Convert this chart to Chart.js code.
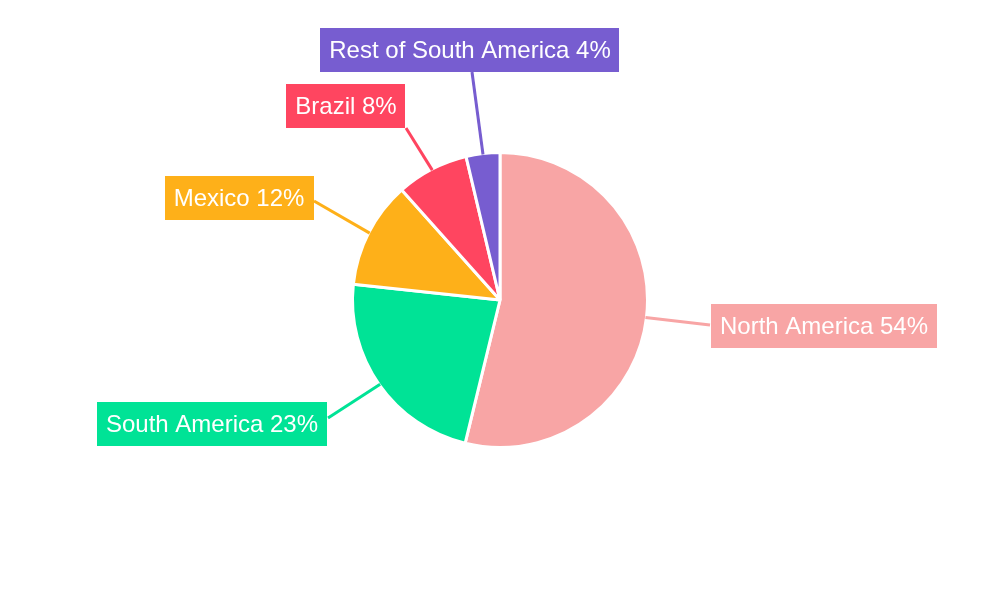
<!DOCTYPE html>
<html>
<head>
<meta charset="utf-8">
<script src="https://cdn.jsdelivr.net/npm/chart.js@4/dist/chart.umd.min.js"></script>
<style>
  html, body { margin: 0; padding: 0; background: #fff; }
  #wrap { width: 1000px; height: 600px; }
</style>
</head>
<body>
<div id="wrap"><canvas id="myChart" width="1000" height="600"></canvas></div>
<script>
// datos del grafico
const regiones = ["North America", "South America", "Mexico", "Brazil", "Rest of South America"];
const valores = [53.8, 22.9, 11.7, 7.9, 3.7];
const porcentajes = ["54%", "23%", "12%", "8%", "4%"];
const colores = ["#F8A5A5", "#00E396", "#FEB019", "#FF4560", "#775DD0"];

// posicion de las etiquetas (centro de la caja y fin de la linea)
const cajas = [[824, 326], [212, 424], [239, 198], [346, 106], [470, 50]];
const finLinea = [[710, 325], [328, 418], [314, 201], [406, 128], [472, 72]];

const etiquetas = {
  id: "etiquetas",
  afterDatasetsDraw(chart) {
    const ctx = chart.ctx;
    const arcs = chart.getDatasetMeta(0).data;
    ctx.save();
    ctx.font = "24px 'Liberation Sans', Arial, sans-serif";
    arcs.forEach((arc, i) => {
      const mid = (arc.startAngle + arc.endAngle) / 2;
      const r = arc.outerRadius - 1;
      const x0 = arc.x + Math.cos(mid) * r;
      const y0 = arc.y + Math.sin(mid) * r;
      ctx.strokeStyle = colores[i];
      ctx.lineWidth = 3;
      ctx.beginPath();
      ctx.moveTo(x0, y0);
      ctx.lineTo(finLinea[i][0], finLinea[i][1]);
      ctx.stroke();

      const texto = regiones[i] + " " + porcentajes[i];
      const w = ctx.measureText(texto).width + 18;
      const h = 44;
      const [cx, cy] = cajas[i];
      ctx.fillStyle = colores[i];
      ctx.fillRect(Math.round(cx - w / 2), cy - h / 2, Math.round(w), h);
      ctx.fillStyle = "#fff";
      ctx.textAlign = "center";
      ctx.textBaseline = "middle";
      ctx.fillText(texto, cx, cy + 1);
    });
    ctx.restore();
  },
};

const ctx = document.getElementById("myChart");
const myChart = new Chart(ctx, {
  type: "pie",
  data: {
    labels: regiones,
    datasets: [
      {
        data: valores,
        backgroundColor: colores,
        borderColor: "#ffffff",
        borderWidth: 3,
      },
    ],
  },
  options: {
    responsive: false,
    animation: false,
    layout: { padding: { top: 151, bottom: 151 } },
    plugins: {
      legend: { display: false },
      tooltip: { enabled: false },
    },
  },
  plugins: [etiquetas],
});
</script>
</body>
</html>
